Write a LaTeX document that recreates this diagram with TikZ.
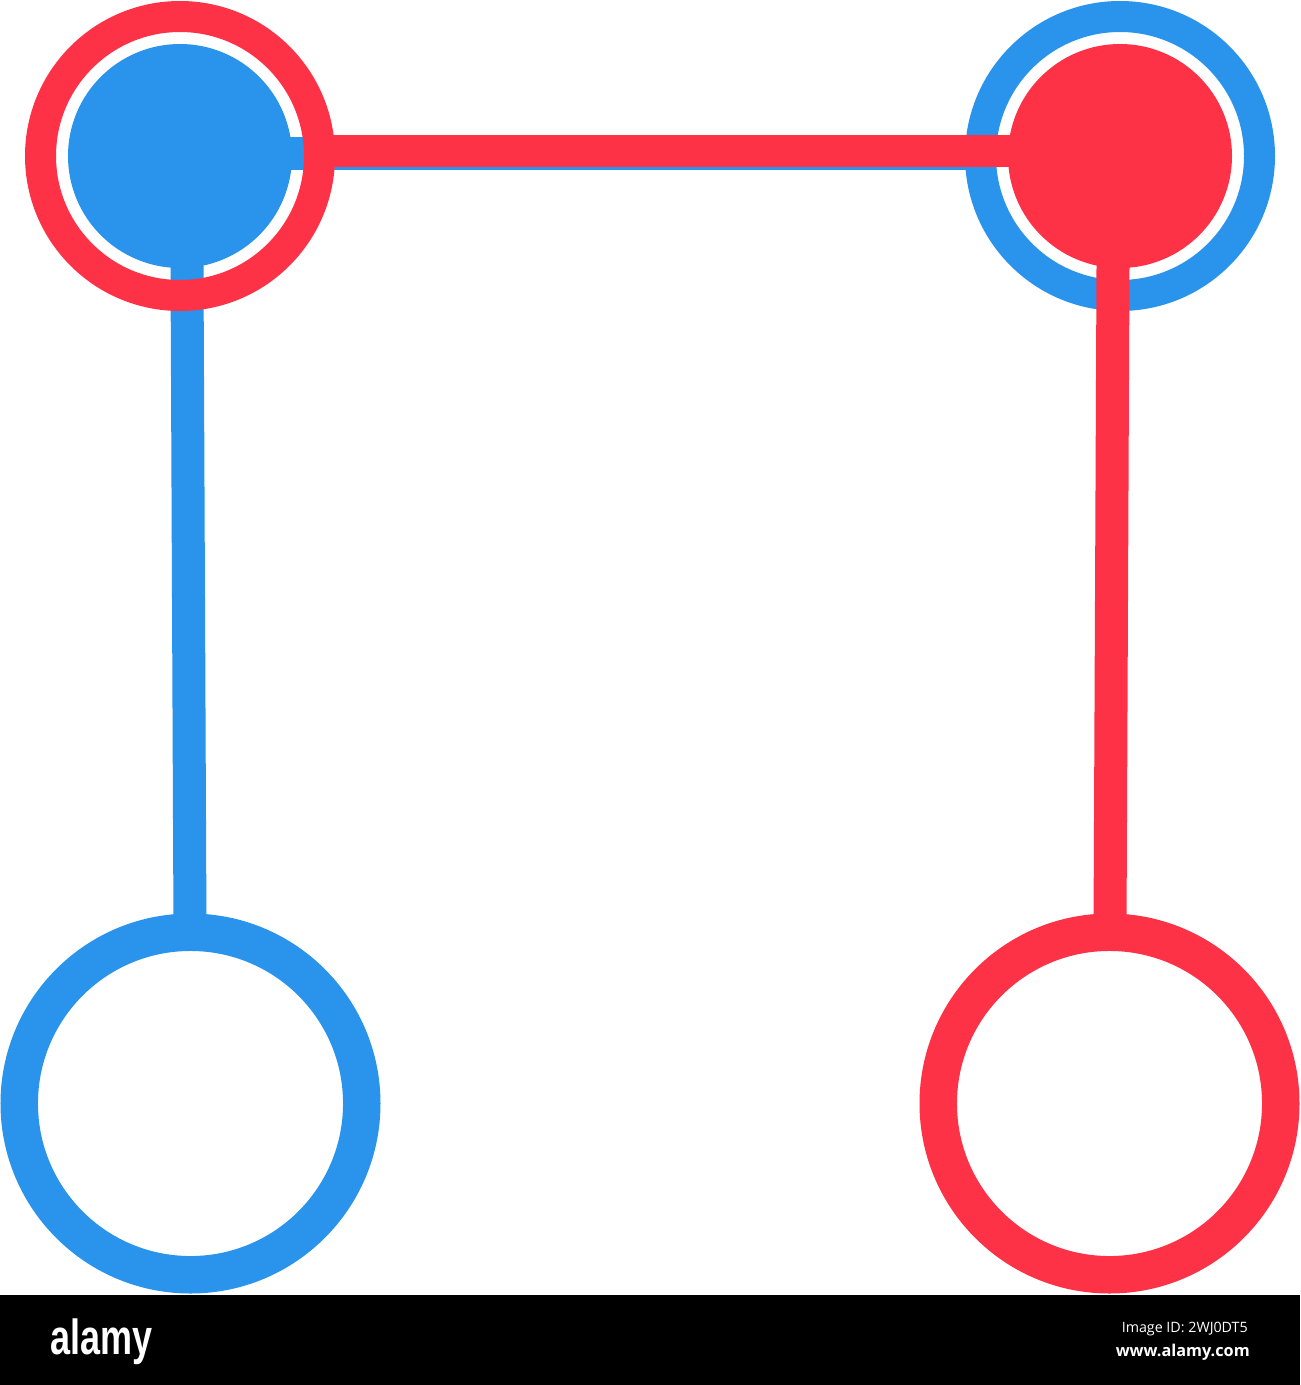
\documentclass[tikz,border=0pt]{standalone}
\usepackage{fontspec}
\setmainfont{Open Sans}
\newfontfamily\wmfont{Liberation Sans}
\definecolor{cblue}{HTML}{2A93EB}
\definecolor{cred}{HTML}{FE3246}
\begin{document}
\begin{tikzpicture}[x=0.75pt,y=-0.75pt,
  fillnode/.style={circle,inner sep=0pt,minimum size=168pt,fill=#1,draw=none},
  smallring/.style={circle,inner sep=0pt,minimum size=209.25pt,draw=#1,line width=23.25pt},
  bigring/.style={circle,inner sep=0pt,minimum size=256.9pt,draw=#1,line width=28.1pt},
  link/.style={draw=#1,line width=24.75pt}]
\useasboundingbox (0,0) rectangle (1300,1385);
\fill[white] (0,0) rectangle (1300,1385);
% centres
\coordinate (tlc) at (180,156);
\coordinate (trc) at (1120,156);
\coordinate (blc) at (190.5,1103.5);
\coordinate (brc) at (1109.5,1103.5);
% connector end points
\coordinate (hb1) at (180,153.5);
\coordinate (hb2) at (985,153.5);
\coordinate (hr1) at (320,151);
\coordinate (hr2) at (1120,151);
\coordinate (vb1) at (186.5,156);
\coordinate (vb2) at (190,930);
\coordinate (vr1) at (1113.5,156);
\coordinate (vr2) at (1110,930);
% blue connectors (beneath)
\draw[link=cblue,line width=24.75pt] (hb1) -- (hb2);
\draw[link=cblue] (vb1) -- (vb2);
% top-left node
\node[fillnode=cblue] (tlfill) at (tlc) {};
\node[smallring=cred] (tlring) at (tlc) {};
% top-right ring
\node[smallring=cblue] (trring) at (trc) {};
% red connectors
\draw[link=cred,line width=24pt] (hr1) -- (hr2);
\draw[link=cred] (vr1) -- (vr2);
\node[fillnode=cred] (trfill) at (trc) {};
% bottom rings
\node[bigring=cblue] (blring) at (blc) {};
\node[bigring=cred] (brring) at (brc) {};
% bottom bar
\fill[black] (0,1295) rectangle (1300,1385);
\node[anchor=base west,inner sep=0pt,text=white,font=\wmfont\bfseries\fontsize{37pt}{37pt}\selectfont] (logo) at (50,1354) {\scalebox{0.73}[1]{alamy}};
\node[anchor=base east,inner sep=0pt,text=white,font=\fontsize{10.7pt}{12pt}\selectfont] (imgid) at (1248,1332) {Image ID: 2WJ0DT5};
\node[anchor=base east,inner sep=0pt,text=white,font=\bfseries\fontsize{12.2pt}{14pt}\selectfont] (url) at (1250,1356) {www.alamy.com};
\end{tikzpicture}
\end{document}
